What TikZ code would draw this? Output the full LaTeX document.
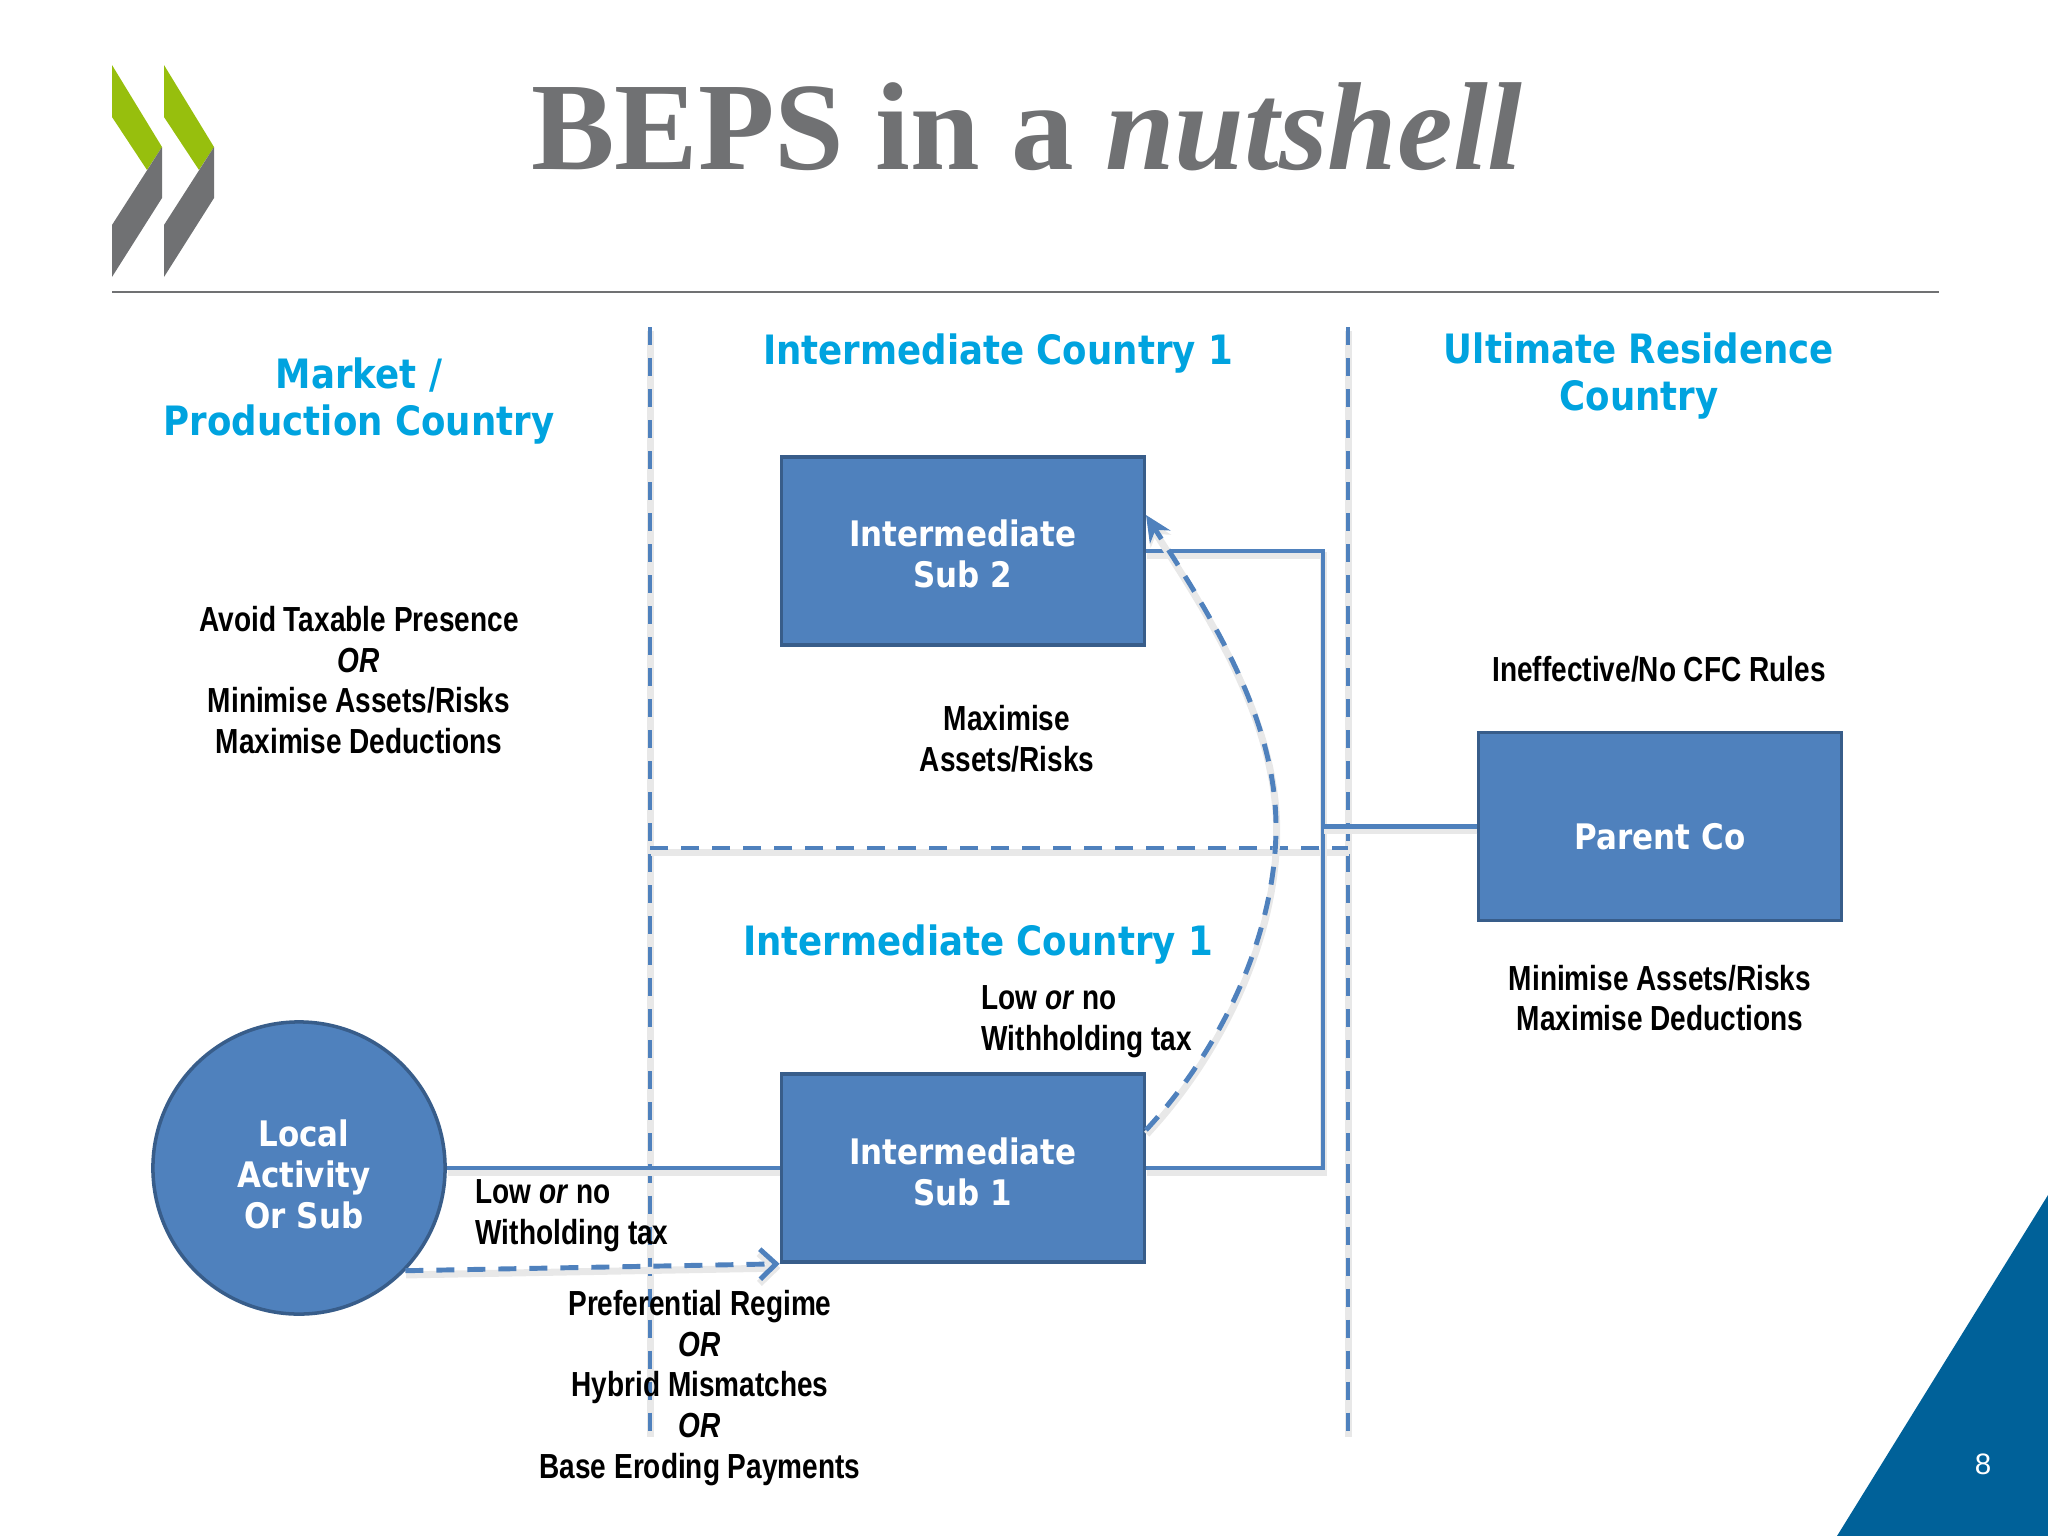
\documentclass[tikz,border=0pt]{standalone}
\usepackage{fontspec}
\usetikzlibrary{arrows.meta}
\setmainfont{Liberation Sans}
\newfontfamily\titlefont{Liberation Serif}
\newfontfamily\headfont[FakeStretch=0.88]{DejaVu Sans}
\newfontfamily\notefont[FakeStretch=0.805]{Liberation Sans}

\definecolor{oecdblue}{HTML}{00A3DF}
\definecolor{boxblue}{HTML}{4F81BD}
\definecolor{boxline}{HTML}{385D8A}
\definecolor{logogreen}{HTML}{97BF0D}
\definecolor{logogray}{HTML}{707173}
\definecolor{cornerblue}{HTML}{006199}

\tikzset{
	head/.style={align=center, inner sep=0, text=oecdblue, font=\headfont\bfseries\fontsize{11.5}{13.6}\selectfont},
	note/.style={align=center, inner sep=0, font=\notefont\bfseries\fontsize{9.9}{11.6}\selectfont},
	tag/.style={align=center, inner sep=0, text=white, font=\headfont\bfseries\fontsize{10}{11.6}\selectfont},
	entity/.style={draw=boxline, fill=boxblue, line width=1pt},
	firm/.style={entity, rectangle, minimum width=3.63cm, minimum height=1.88cm},
	shade/.style={preaction={draw=black!9, line width=2pt, transform canvas={xshift=0.2pt, yshift=-1.2pt}}},
	link/.style={draw=boxblue, line width=1.4pt, shade},
	border/.style={link, dash pattern=on 0.18cm off 0.13cm}
}

\begin{document}
\begin{tikzpicture}[x=0.01cm, y=-0.01cm]
	
	\useasboundingbox (0, 0) rectangle (2048, 1536);
	
	% logo
	\foreach \dx in {0, 52} {
		\fill[logogreen] (112+\dx, 65) -- (162+\dx, 147) -- (147+\dx, 170) -- (112+\dx, 117) -- cycle;
		\fill[logogray] (162+\dx, 147) -- (162+\dx, 198) -- (112+\dx, 277) -- (112+\dx, 225) -- cycle;
	}
	\fill[cornerblue] (1837, 1536) -- (2048, 1195) -- (2048, 1536) -- cycle;
	\draw[logogray, line width=0.5pt] (112, 292) -- (1939, 292);
	
	\node (title) at (1027, 127) [text=logogray, inner sep=0, font=\titlefont\bfseries\fontsize{35.6}{40}\selectfont] {BEPS in a \textit{nutshell}};
	\node (page) at (1983, 1464) [text=white, inner sep=0, font=\fontsize{8.4}{10}\selectfont] {8};
	
	% country borders
	\coordinate (topa) at (650, 327);
	\coordinate (bota) at (650, 1433);
	\coordinate (topb) at (1348, 327);
	\coordinate (botb) at (1348, 1433);
	\coordinate (mida) at (650, 848);
	\coordinate (midb) at (1348, 848);
	\draw[border] (topa) -- (bota);
	\draw[border] (topb) -- (botb);
	\draw[border] (mida) -- (midb);
	
	% entities
	\node[firm, label={[tag, yshift=-0.03cm]center:Intermediate\\Sub 2}] (subtwo) at (963, 551) {};
	\node[firm, label={[tag, yshift=-0.04cm]center:Intermediate\\Sub 1}] (subone) at (963, 1168) {};
	\node[firm, label={[tag, yshift=-0.105cm]center:Parent Co}] (parent) at (1660, 826.5) {};
	\node[entity, circle, minimum size=2.92cm, label={[tag, xshift=0.05cm, yshift=-0.065cm]center:Local\\Activity\\Or Sub}] (local) at (299, 1168) {};
	
	% flows
	\coordinate (bus) at (1323, 826.5);
	\coordinate (arcstart) at (1146, 1130);
	\coordinate (arcmid) at (1276, 827);
	\coordinate (arcend) at (1146, 515);
	\draw[link] (subtwo.east) -| (bus) |- (subone.east);
	\draw[link] (parent.west) -- (bus);
	\draw[link] (local.east) -- (subone.west);
	\draw[border, -{Straight Barb[length=0.16cm, width=0.3cm]}] (local.-44) -- (subone.south west);
	\draw[border, -{Stealth[length=0.26cm, width=0.24cm]}] (arcstart) .. controls (1225, 1045) and (1276, 930) .. (arcmid) .. controls (1276, 715) and (1207, 610) .. (arcend);
	
	% labels
	\node[head] (market) at (359, 401) {Market /\\Production Country};
	\node[head] (interone) at (998, 353) {Intermediate Country 1};
	\node[head] (ultimate) at (1639, 376) {Ultimate Residence\\Country};
	\node[head] (intertwo) at (978, 944) {Intermediate Country 1};
	
	\node[note] (avoid) at (359, 680) {Avoid Taxable Presence\\\textit{OR}\\Minimise Assets/Risks\\Maximise Deductions};
	\node[note] (assets) at (1007, 739) {Maximise\\Assets/Risks};
	\node[note] (cfc) at (1659, 669) {Ineffective/No CFC Rules};
	\node[note] (deduct) at (1660, 998) {Minimise Assets/Risks\\Maximise Deductions};
	\node[note, align=left, anchor=west] (taxtwo) at (981, 1022) {Low \textit{or} no\\Withholding tax};
	\node[note, align=left, anchor=west] (taxone) at (475, 1216) {Low \textit{or} no\\Witholding tax};
	\node[note] (regime) at (700, 1388) {Preferential Regime\\\textit{OR}\\Hybrid Mismatches\\\textit{OR}\\Base Eroding Payments};
	
\end{tikzpicture}
\end{document}
